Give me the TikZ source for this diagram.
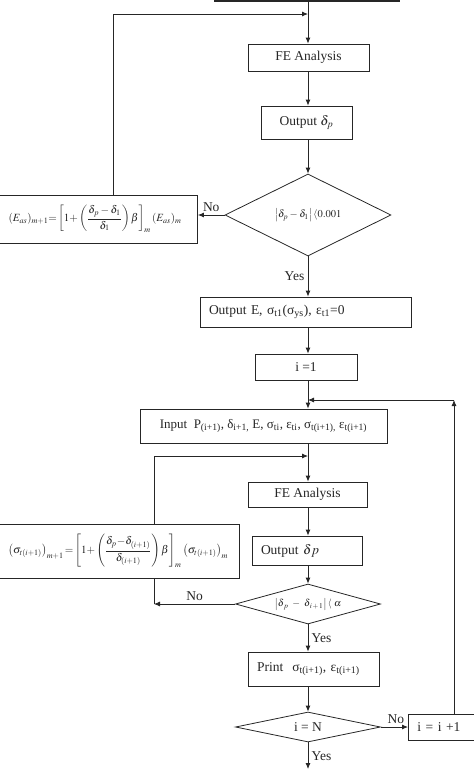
\documentclass[tikz,border=0pt]{standalone}
\usepackage{mathptmx}
\usepackage{fontspec}
\setmainfont{Liberation Serif}
\usetikzlibrary{positioning, shapes.geometric, arrows.meta}

\begin{document}
\begin{tikzpicture}[x=1pt, y=-1pt, >={Latex[length=6pt,width=5pt]}, line width=0.8pt,
color=black!85, font=\fontsize{13.5}{16}\selectfont,
stage/.style= {rectangle, draw, inner sep=0pt, align=center},
lstage/.style= {stage, align=left, inner xsep=9pt},
test/.style= {diamond, draw, inner sep=0pt} ]
\useasboundingbox (0,0) rectangle (474,769);
\coordinate (col) at (308,0);
\coordinate (j1) at (308,14);
\coordinate (l1) at (113,14);
\coordinate (j3) at (308,400);
\coordinate (r3) at (454,400);
\coordinate (j2) at (308,456);
\coordinate (l2) at (154,456);
\coordinate (l4) at (154,604);
\coordinate (end) at (308,769);
\node (fe1) [stage, minimum width=121pt, minimum height=27pt] at (308.5,57.5) {FE Analysis};
\node (out1) [stage, minimum width=91pt, minimum height=33pt] at (306.5,122.5) {Output $\delta_p$};
\node (dia1) [test, minimum width=166pt, minimum height=82pt, aspect=2] at (308,215) {\fontsize{10.5}{12}\selectfont $\left|\delta_p-\delta_1\right|\langle 0.001$};
\node (upd1) [stage, minimum width=205pt, minimum height=48pt] at (95,219) {\fontsize{11}{13}\selectfont $\displaystyle(E_{as})_{m+1}{=}\left[1{+}\left(\frac{\delta_p-\delta_1}{\delta_1}\right)\beta\right]_m(E_{as})_m$};
\node (outE) [lstage, text width=193pt, minimum height=30pt] at (305.5,312) {Output E, σ\textsubscript{t1}(σ\textsubscript{ys}), ε\textsubscript{t1}=0};
\node (i1) [stage, minimum width=102pt, minimum height=26pt] at (306,367) {i =1};
\node (inp) [stage, minimum width=247pt, minimum height=34pt] at (263.5,426) {\fontsize{13}{16}\selectfont Input\ \ P\textsubscript{(i+1)}, δ\textsubscript{i+1,} E, σ\textsubscript{ti}, ε\textsubscript{ti}, σ\textsubscript{t(i+1),} ε\textsubscript{t(i+1)}};
\node (fe2) [stage, minimum width=119pt, minimum height=25pt] at (307.5,494.5) {FE Analysis};
\node (out2) [lstage, text width=92pt, minimum height=29pt] at (307,550.5) {Output $\delta p$};
\node (upd2) [stage, minimum width=242pt, minimum height=54pt] at (118,551) {\fontsize{11}{14}\selectfont $\displaystyle\left(\sigma_{t(i{+}1)}\right)_{m{+}1}{=}\left[1{+}\left(\frac{\delta_p{-}\delta_{(i{+}1)}}{\delta_{(i{+}1)}}\right)\beta\right]_m\left(\sigma_{t(i{+}1)}\right)_m$};
\node (dia2) [test, minimum width=145pt, minimum height=40pt, aspect=3.6] at (308,604) {\fontsize{10}{12}\selectfont $\left|\delta_{\,p}\ -\ \delta_{\,i\,+\,1}\right|\langle\ \alpha$};
\node (prt) [lstage, text width=113pt, minimum height=34pt] at (313.5,669) {Print\ \ σ\textsubscript{t(i+1)}, ε\textsubscript{t(i+1)}};
\node (dia3) [test, minimum width=145pt, minimum height=30pt, aspect=4.8] at (308,727) {i = N};
\node (inc) [lstage, text width=70pt, minimum height=26pt, anchor=west] at (408,727) {i = i +1};
\draw[line width=4pt] (214,0) -- (400,0);
\path (col) edge[->] (col |- fe1.north);
\draw (upd1.north -| l1) -- (l1);
\path (l1) edge[->] (j1);
\path (fe1.south -| col) edge[->] (col |- out1.north);
\path (out1.south -| col) edge[->] (dia1.north);
\path (dia1.west) edge[->] node[above] {No} (dia1.west -| upd1.east);
\path (dia1.south) edge[->] node[left] {Yes} (col |- outE.north);
\path (outE.south -| col) edge[->] (col |- i1.north);
\path (i1.south -| col) edge[->] (col |- inp.north);
\path (inc.north -| r3) edge[->] (r3);
\path (r3) edge[->] (j3);
\path (inp.south -| col) edge[->] (col |- fe2.north);
\draw (upd2.north -| l2) -- (l2);
\path (l2) edge[->] (j2);
\path (fe2.south -| col) edge[->] (col |- out2.north);
\path (out2.south -| col) edge[->] (dia2.north);
\path (dia2.west) edge[->] node[above] {No} (l4);
\draw (upd2.south -| l4) -- (l4);
\path (dia2.south) edge[->] node[right] {Yes} (col |- prt.north);
\path (prt.south -| col) edge[->] (dia3.north);
\path (dia3.east) edge[->] node[above, pos=0.55] {No} (inc.west);
\path (dia3.south) edge[->] node[right] {Yes} (end);
\end{tikzpicture}
\end{document}
